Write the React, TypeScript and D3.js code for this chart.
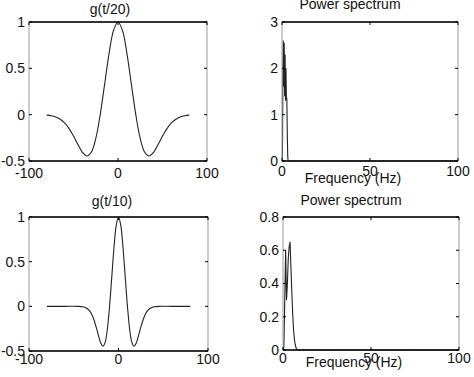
import React from "react";
import * as d3 from "d3";

const tG20 = [-80,-75,-70,-65,-60,-55,-50,-45,-40,-35,-30,-25,-20,-15,-10,-5,0,5,10,15,20,25,30,35,40,45,50,55,60,65,70,75,80];
const g20 = [-0.005,-0.012,-0.025,-0.049,-0.089,-0.150,-0.231,-0.323,-0.406,-0.446,-0.406,-0.258,0,0.330,0.662,0.909,1,0.909,0.662,0.330,0,-0.258,-0.406,-0.446,-0.406,-0.323,-0.231,-0.150,-0.089,-0.049,-0.025,-0.012,-0.005];

const tG10 = [-80,-60,-45,-40,-37.5,-35,-32.5,-30,-27.5,-25,-22.5,-20,-17.5,-15,-12.5,-10,-7.5,-5,-2.5,0,2.5,5,7.5,10,12.5,15,17.5,20,22.5,25,27.5,30,32.5,35,37.5,40,45,60,80];
const g10 = [0,0,0,-0.005,-0.012,-0.025,-0.049,-0.089,-0.150,-0.231,-0.323,-0.406,-0.446,-0.406,-0.258,0,0.330,0.662,0.909,1,0.909,0.662,0.330,0,-0.258,-0.406,-0.446,-0.406,-0.323,-0.231,-0.150,-0.089,-0.049,-0.025,-0.012,-0.005,0,0,0];

const freq1 = [0,0.25,0.5,0.75,1,1.25,1.5,1.75,2,2.25,2.5,2.75,3,3.25,3.5,4,100];
const power1 = [0,0.05,1.8,2.6,1.6,2.55,1.4,2.3,1.3,2.0,1.35,1.35,0.6,0.1,0,0,0];

const freq2 = [0,0.5,1,1.5,2,2.5,3,3.5,4,4.5,5,5.5,6,6.5,7,7.5,8,100];
const power2 = [0,0.02,0.3,0.6,0.3,0.4,0.55,0.62,0.65,0.5,0.35,0.22,0.12,0.06,0.03,0.01,0,0];

const timeTicks = [-100, 0, 100];
const gTicks = [-0.5, 0, 0.5, 1];
const freqTicks = [0, 50, 100];
const pTicks1 = [0, 1, 2, 3];
const pTicks2 = [0, 0.2, 0.4, 0.6, 0.8];

const FONT = "'Liberation Sans', Arial, sans-serif";

type PanelProps = {
  xs: number[]; ys: number[];
  xDom: [number, number]; yDom: [number, number];
  left: number; right: number; top: number; bottom: number;
  xTicks: number[]; yTicks: number[];
  title: string; titleX: number; titleY: number;
  xLabel?: string; xLabelY?: number;
  xTickY: number;
  curve: any;
};

function Panel(p: PanelProps) {
  const x = d3.scaleLinear().domain(p.xDom).range([p.left, p.right]);
  const y = d3.scaleLinear().domain(p.yDom).range([p.bottom, p.top]);
  const pts = p.xs.map((v, i) => [v, p.ys[i]] as [number, number]);
  const line = d3.line<[number, number]>().x(d => x(d[0])).y(d => y(d[1])).curve(p.curve);
  const fmt = (v: number) => String(v);
  return (
    <g fontFamily={FONT} fontSize={14} fill="#111">
      <path d={line(pts) || ""} fill="none" stroke="#222" strokeWidth={1.1} />
      <rect x={p.left} y={p.top} width={p.right - p.left} height={p.bottom - p.top} fill="none" stroke="#999" strokeWidth={1} />
      <line x1={p.left} x2={p.right} y1={p.top} y2={p.top} stroke="#000" strokeWidth={1.6} />
      <line x1={p.left} x2={p.right} y1={p.bottom} y2={p.bottom} stroke="#000" strokeWidth={1.6} />
      {p.yTicks.map(t => (
        <g key={"y" + t}>
          <line x1={p.left} x2={p.left + 3} y1={y(t)} y2={y(t)} stroke="#000" />
          <line x1={p.right} x2={p.right - 3} y1={y(t)} y2={y(t)} stroke="#000" />
          <text x={p.left - 4} y={y(t)} dy="0.35em" textAnchor="end">{fmt(t)}</text>
        </g>
      ))}
      {p.xTicks.map(t => (
        <g key={"x" + t}>
          <line x1={x(t)} x2={x(t)} y1={p.bottom} y2={p.bottom - 3} stroke="#000" />
          <line x1={x(t)} x2={x(t)} y1={p.top} y2={p.top + 3} stroke="#000" />
          <text x={x(t)} y={p.xTickY} textAnchor="middle">{fmt(t)}</text>
        </g>
      ))}
      <text x={p.titleX} y={p.titleY} textAnchor="middle">{p.title}</text>
      {p.xLabel && (
        <text x={(p.left + p.right) / 2 - 17} y={p.xLabelY} textAnchor="middle">{p.xLabel}</text>
      )}
    </g>
  );
}

export default function App() {
  return (
    <svg width={474} height={377} style={{ position: "absolute", left: 0, top: 0, background: "#fff" }}>
      <rect width={474} height={377} fill="#fff" />
      <Panel xs={tG20} ys={g20} xDom={[-100, 100]} yDom={[-0.5, 1]}
        left={29} right={207} top={22} bottom={161}
        xTicks={timeTicks} yTicks={gTicks} title="g(t/20)" titleX={110} titleY={14}
        xTickY={178} curve={d3.curveCatmullRom} />
      <Panel xs={freq1} ys={power1} xDom={[0, 100]} yDom={[0, 3]}
        left={282} right={458} top={22} bottom={161}
        xTicks={freqTicks} yTicks={pTicks1} title="Power spectrum" titleX={350} titleY={9}
        xLabel="Frequency (Hz)" xLabelY={183} xTickY={176} curve={d3.curveLinear} />
      <Panel xs={tG10} ys={g10} xDom={[-100, 100]} yDom={[-0.5, 1]}
        left={29} right={208} top={217} bottom={351}
        xTicks={timeTicks} yTicks={gTicks} title="g(t/10)" titleX={112} titleY={206}
        xTickY={364} curve={d3.curveCatmullRom} />
      <Panel xs={freq2} ys={power2} xDom={[0, 100]} yDom={[0, 0.8]}
        left={283} right={459} top={217} bottom={350}
        xTicks={freqTicks} yTicks={pTicks2} title="Power spectrum" titleX={351} titleY={205}
        xLabel="Frequency (Hz)" xLabelY={367} xTickY={363} curve={d3.curveLinear} />
    </svg>
  );
}
